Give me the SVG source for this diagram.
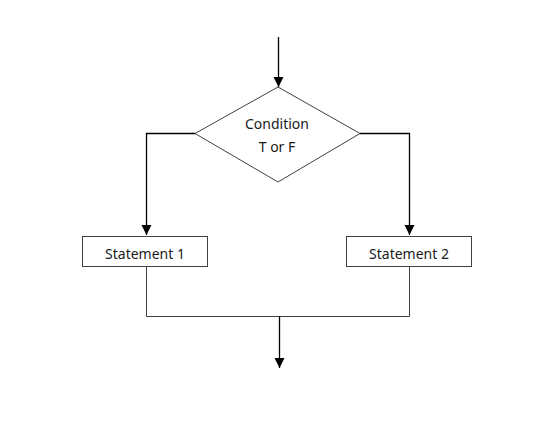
<svg xmlns="http://www.w3.org/2000/svg" width="541" height="432" viewBox="0 0 541 432">
<style>
.shape{fill:#fff;stroke:#404040;stroke-width:1}
.line{fill:none;stroke:#404040;stroke-width:1}
.arrow{fill:none;stroke:#000;stroke-width:1.3}
text{font-family:"Noto Sans","Open Sans",sans-serif;font-size:14px;fill:#1a1a1a;text-anchor:middle}
</style>
<defs>
<marker id="ah" markerUnits="userSpaceOnUse" markerWidth="11" markerHeight="11" refX="10" refY="5" orient="auto">
<path d="M0,0 L10,5 L0,10 Z" fill="#000"/>
</marker>
</defs>
<rect width="541" height="432" fill="#fff"/>
<g id="connectors">
<path class="arrow" d="M278.5,37 V87" marker-end="url(#ah)"/>
<path class="arrow" d="M195,133.5 H146.5 V235" marker-end="url(#ah)"/>
<path class="arrow" d="M360,133.5 H409.5 V235" marker-end="url(#ah)"/>
<path class="line" d="M146.5,266 V316.5 H409.5 V266"/>
<path class="arrow" d="M279.5,316.5 V368" marker-end="url(#ah)"/>
</g>
<g id="condition">
<polygon class="shape" points="278,87 360,133.5 278,182 195,133.5"/>
<text x="277" y="129">Condition</text>
<text x="277" y="152">T or F</text>
</g>
<g id="statement1">
<rect class="shape" x="82.5" y="236.5" width="125" height="30"/>
<text x="145" y="259">Statement 1</text>
</g>
<g id="statement2">
<rect class="shape" x="346.5" y="236.5" width="125" height="30"/>
<text x="409" y="259">Statement 2</text>
</g>
</svg>
